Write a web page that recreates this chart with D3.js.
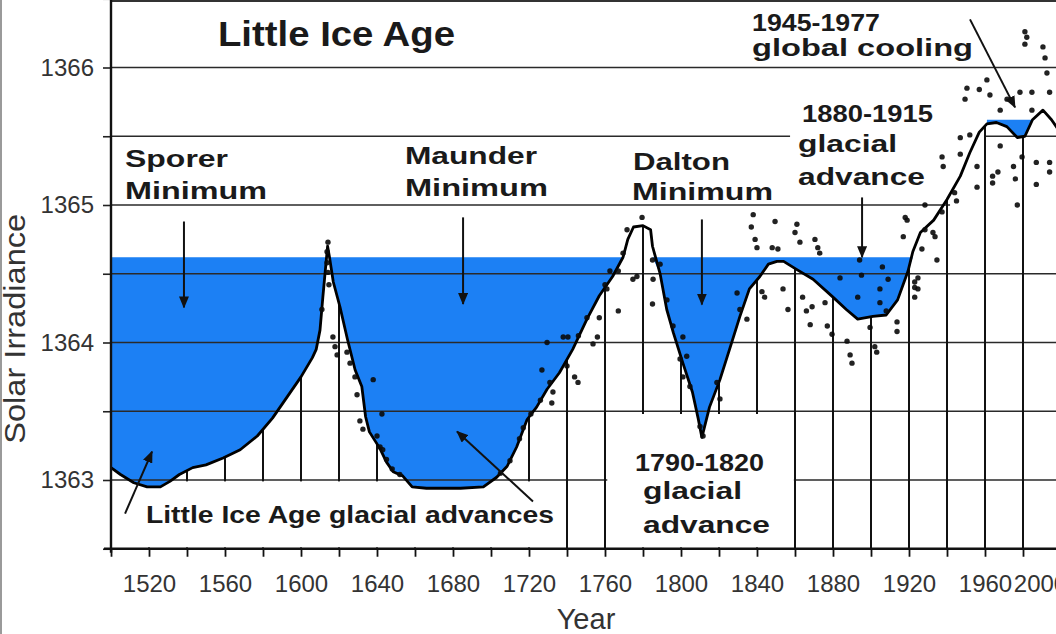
<!DOCTYPE html>
<html>
<head>
<meta charset="utf-8">
<script src="https://cdn.jsdelivr.net/npm/d3@7"></script>
<style>
  html, body { margin: 0; padding: 0; background: #fff; }
  svg { display: block; }
</style>
</head>
<body>
<svg id="chart" width="1056" height="634"></svg>
<script>
// 태양 복사 조도 (W/m2) 재구성 곡선
const CURVE_YEARS = [1500, 1505, 1512, 1519, 1526, 1531, 1536, 1543, 1550, 1559, 1568, 1577, 1585, 1593, 1600,
  1606, 1608, 1610, 1611.5, 1612.5, 1614, 1615, 1617, 1620.5, 1624.5, 1628.5, 1632, 1634, 1636, 1641.5,
  1645, 1648.5, 1653.5, 1658.5, 1666, 1684, 1696, 1703, 1708.5, 1713.5, 1719, 1724, 1729.5, 1736, 1743,
  1750.5, 1757, 1764, 1769.5, 1772, 1775, 1780, 1784, 1785, 1789, 1792.5, 1796, 1801, 1806, 1809, 1811,
  1815, 1820.5, 1826, 1831, 1836, 1841.5, 1846, 1850.5, 1854, 1861, 1869.5, 1880, 1887, 1893, 1901, 1908,
  1914, 1919.5, 1922, 1926, 1933, 1940, 1947, 1952, 1957, 1961, 1966, 1971.5, 1977, 1981, 1985, 1990.5,
  1995, 1998];
const CURVE_TSI = [1363.09, 1363.04, 1362.98, 1362.95, 1362.95, 1362.99, 1363.04, 1363.09, 1363.11, 1363.16,
  1363.22, 1363.32, 1363.45, 1363.61, 1363.75, 1363.89, 1363.95, 1364.09, 1364.33, 1364.48, 1364.70,
  1364.62, 1364.44, 1364.26, 1364.02, 1363.80, 1363.68, 1363.46, 1363.35, 1363.23, 1363.13, 1363.06,
  1363.03, 1362.95, 1362.94, 1362.94, 1362.95, 1363.02, 1363.10, 1363.24, 1363.44, 1363.53, 1363.66,
  1363.78, 1363.95, 1364.17, 1364.34, 1364.48, 1364.62, 1364.75, 1364.84, 1364.85, 1364.82, 1364.70,
  1364.50, 1364.24, 1364.07, 1363.85, 1363.64, 1363.45, 1363.31, 1363.53, 1363.73, 1363.97, 1364.19,
  1364.39, 1364.48, 1364.57, 1364.59, 1364.59, 1364.53, 1364.46, 1364.33, 1364.24, 1364.17, 1364.19,
  1364.20, 1364.31, 1364.52, 1364.66, 1364.80, 1364.89, 1365.04, 1365.21, 1365.38, 1365.53, 1365.59,
  1365.60, 1365.57, 1365.49, 1365.50, 1365.62, 1365.69, 1365.62, 1365.56];

// 개별 관측값 (점)
const SCATTER = [
  [1614.2, 1364.73], [1613.7, 1364.66], [1613.7, 1364.58], [1614.2, 1364.51], [1614.7, 1364.42],
  [1611, 1364.24], [1616.8, 1364.04], [1617.9, 1363.97], [1619, 1363.91], [1624.2, 1363.93],
  [1625.8, 1363.85], [1628.4, 1363.75], [1629.5, 1363.62], [1631, 1363.43], [1632.6, 1363.37],
  [1638, 1363.73], [1640, 1363.32], [1641.6, 1363.24], [1643, 1363.22], [1645, 1363.15],
  [1642.6, 1363.48], [1648, 1363.08], [1652, 1363.04], [1705, 1363.05], [1710, 1363.14],
  [1715, 1363.30], [1717, 1363.38], [1721, 1363.48], [1726, 1363.58], [1726.8, 1363.80],
  [1729.5, 1364.0], [1738, 1364.04], [1740.5, 1364.04], [1731, 1363.71], [1732.6, 1363.64],
  [1732, 1363.56], [1740, 1363.83], [1744, 1363.75], [1745.8, 1363.71], [1746, 1364.05],
  [1750.5, 1364.18], [1753.7, 1363.99], [1756, 1364.04], [1757, 1364.18], [1760, 1364.42],
  [1761, 1364.39], [1762.6, 1364.52], [1767, 1364.23], [1767, 1364.52], [1769.5, 1364.65],
  [1771.6, 1364.82], [1774.7, 1364.46], [1776.8, 1364.48], [1779.5, 1364.91], [1785, 1364.28],
  [1785, 1364.60], [1789, 1364.57], [1785.3, 1364.46], [1792.6, 1364.31], [1795.8, 1364.12],
  [1799.5, 1363.88], [1801, 1363.75], [1804.7, 1363.68], [1803, 1363.90], [1801, 1364.04],
  [1810, 1363.39], [1811.6, 1363.32], [1818.9, 1363.71], [1820.5, 1363.59], [1829.5, 1364.36],
  [1831, 1364.24], [1834.7, 1364.17],
  [1838, 1364.93], [1837, 1364.84], [1839, 1364.75], [1840, 1364.69], [1849.5, 1364.88],
  [1848, 1364.69], [1851, 1364.68], [1861, 1364.86], [1860, 1364.80], [1862.6, 1364.73],
  [1870.5, 1364.75], [1872, 1364.69], [1873, 1364.65], [1842.6, 1364.37], [1844, 1364.33],
  [1853.7, 1364.39], [1856.3, 1364.24], [1864, 1364.33], [1866, 1364.23], [1869, 1364.26],
  [1868, 1364.13], [1875.8, 1364.29], [1877, 1364.12], [1879.5, 1364.06], [1887.4, 1364.01],
  [1889, 1363.91], [1890, 1363.85], [1899.5, 1364.11], [1902, 1363.97], [1903, 1363.93],
  [1908, 1364.23], [1913.7, 1364.15], [1913.7, 1364.08], [1917, 1364.77], [1919, 1364.89],
  [1923, 1364.44], [1924.7, 1364.39], [1923, 1364.33], [1933.7, 1364.77], [1934.7, 1364.60],
  [1928.4, 1364.82], [1894, 1364.60], [1895, 1364.49], [1883.7, 1364.47], [1893, 1364.33],
  [1904.7, 1364.39], [1906, 1364.55], [1909, 1364.46], [1904.7, 1364.29],
  [1982, 1366.22], [1981, 1366.17], [1990.5, 1366.15], [1991.6, 1366.07], [1992.6, 1365.96],
  [1994, 1365.82], [1961, 1365.91], [1957, 1365.84], [1950.5, 1365.85], [1949.5, 1365.77],
  [1962.6, 1365.80], [1971.6, 1365.77], [1968, 1365.69], [1978.4, 1365.82], [1984.7, 1365.82],
  [1984.7, 1365.69], [1947, 1365.49], [1952, 1365.51], [1947, 1365.37], [1937.4, 1365.35],
  [1938, 1365.28], [1955.8, 1365.28], [1955.8, 1365.13], [1944, 1365.09], [1945, 1365.03],
  [1964, 1365.21], [1964, 1365.16], [1966.8, 1365.24], [1968, 1365.43], [1975, 1365.28],
  [1976, 1365.19], [1977, 1365.0], [1979.5, 1365.35], [1987, 1365.31], [1987, 1365.15],
  [1994, 1365.31], [1994, 1365.24], [1928.4, 1365.0], [1937.4, 1364.95], [1918, 1364.91],
  [1932.6, 1364.80], [1926.8, 1364.68], [1924.7, 1364.47], [1923, 1364.40], [1981, 1366.26]
];

// 빙하 전진기 (파란 영역): 시작, 끝, 기준선
const FILL_FROM  = [1500, 1961];
const FILL_TO    = [1922, 1985];
const FILL_LEVEL = [1364.62, 1365.62];

const DROP_YEARS = [1520, 1540, 1560, 1580, 1600, 1620, 1640, 1660, 1680, 1700, 1720, 1740, 1760, 1780,
  1800, 1820, 1840, 1860, 1880, 1900, 1920, 1940, 1960, 1980];
const X_TICKS  = [1500, 1520, 1540, 1560, 1580, 1600, 1620, 1640, 1660, 1680, 1700, 1720, 1740, 1760, 1780,
  1800, 1820, 1840, 1860, 1880, 1900, 1920, 1940, 1960, 1980, 2000];
const X_LABELS = [1520, 1560, 1600, 1640, 1680, 1720, 1760, 1800, 1840, 1880, 1920, 1960, 2000];
const Y_TICKS  = [1362.5, 1363, 1363.5, 1364, 1364.5, 1365, 1365.5, 1366, 1366.5];
const Y_LABELS = [1363, 1364, 1365, 1366];
const GRID_VALUES = [1363, 1363.5, 1364, 1364.5, 1365, 1365.5, 1366];

// 주석 텍스트: [내용, 시작연도, 끝연도, 기준선 값]
const NOTES = [
  ['Sporer', 1507.4, 1561.6, 1365.28],
  ['Minimum', 1507.4, 1582.1, 1365.047],
  ['Maunder', 1654.7, 1724.2, 1365.295],
  ['Minimum', 1654.7, 1730, 1365.062],
  ['Dalton', 1774.7, 1825.8, 1365.258],
  ['Minimum', 1774.2, 1848.4, 1365.04],
  ['1790-1820', 1775.8, 1843.7, 1363.062],
  ['glacial', 1780, 1832.1, 1362.865],
  ['advance', 1780, 1846.8, 1362.618],
  ['1880-1915', 1863.7, 1932.6, 1365.607],
  ['glacial', 1861.6, 1913.7, 1365.389],
  ['advance', 1861.6, 1928.4, 1365.142],
  ['1945-1977', 1837.4, 1904.7, 1366.262],
  ['global cooling', 1837.4, 1953.7, 1366.087],
  ['Little Ice Age glacial advances', 1518.4, 1733.2, 1362.684]
];
// 화살표: [연도1, 값1, 연도2(끝), 값2(끝)]
const ARROWS = [
  [1538.4, 1364.88, 1538.4, 1364.255],
  [1685.3, 1364.91, 1685.3, 1364.28],
  [1811, 1364.895, 1811, 1364.276],
  [1895.3, 1365.055, 1895.3, 1364.62],
  [1952.1, 1366.35, 1975.8, 1365.71],
  [1507.4, 1362.756, 1521.6, 1363.207],
  [1722.1, 1362.844, 1682.1, 1363.353]
];
// 라벨 뒤 흰 배경: [연도1, 연도2, 값1, 값2]
const MASKS_UNDER = [
  [1857.4, 1960, 1365.08, 1365.84],
  [1941.6, 2010, 1364.96, 1365.04]
];
const MASKS_OVER = [
  [1501, 1738.4, 1362.51, 1362.99],
  [1761.2, 1859.4, 1362.51, 1363.48]
];

const svg = d3.select('#chart');
const W = 1056, H = 634;
const BLUE = '#1c80f4';
const FONT = '"Liberation Sans", Arial, sans-serif';

const x = d3.scaleLinear().domain([1500, 2000]).range([111, 1061]);
const y = d3.scaleLinear().domain([1362.5, 1366.5]).range([548.75, -1.25]);

const curve = CURVE_YEARS.map((yr, i) => ({ yr, v: CURVE_TSI[i] }));
function tsiAt(yr) {
  const i = d3.bisector(d => d.yr).left(curve, yr);
  if (i <= 0) return curve[0].v;
  if (i >= curve.length) return curve[curve.length - 1].v;
  const a = curve[i - 1], b = curve[i];
  return a.v + (b.v - a.v) * (yr - a.yr) / (b.yr - a.yr);
}

// 프레임
svg.append('rect').attr('width', W).attr('height', H).attr('fill', '#fff');
svg.append('line').attr('x1', 1).attr('x2', 1).attr('y1', 0).attr('y2', H)
  .attr('stroke', '#9a9a9a').attr('stroke-width', 2);
svg.append('line').attr('x1', x(1500)).attr('x2', W).attr('y1', 1).attr('y2', 1)
  .attr('stroke', '#333').attr('stroke-width', 2);

// 가로 격자
function drawGrid(g) {
  g.selectAll('line').data(GRID_VALUES).join('line')
    .attr('x1', x(1500)).attr('x2', W)
    .attr('y1', d => y(d)).attr('y2', d => y(d))
    .attr('stroke', '#2a2a2a').attr('stroke-width', 1.6);
}
drawGrid(svg.append('g'));

function drawMasks(data) {
  svg.append('g').selectAll('rect').data(data).join('rect')
    .attr('x', d => x(d[0])).attr('width', d => x(d[1]) - x(d[0]))
    .attr('y', d => y(d[3])).attr('height', d => y(d[2]) - y(d[3]))
    .attr('fill', '#fff');
}
drawMasks(MASKS_UNDER);

// 세로 막대선 (곡선 아래)
svg.append('g').selectAll('line').data(DROP_YEARS).join('line')
  .attr('x1', d => x(d)).attr('x2', d => x(d))
  .attr('y1', d => y(tsiAt(d))).attr('y2', y(1362.5))
  .attr('stroke', '#111').attr('stroke-width', 2);

drawMasks(MASKS_OVER);

// 파란 영역
const defs = svg.append('defs');
const clip = defs.append('clipPath').attr('id', 'blueClip');
const fillG = svg.append('g');
FILL_FROM.forEach((from, k) => {
  const to = FILL_TO[k], lvl = FILL_LEVEL[k];
  const pts = [{ yr: from, v: tsiAt(from) }]
    .concat(curve.filter(d => d.yr > from && d.yr < to))
    .concat([{ yr: to, v: tsiAt(to) }]);
  const area = d3.area()
    .x(d => x(d.yr))
    .y0(y(lvl))
    .y1(d => y(Math.min(d.v, lvl)));
  fillG.append('path').datum(pts).attr('d', area).attr('fill', BLUE);
  clip.append('path').datum(pts).attr('d', area);
});
drawGrid(svg.append('g').attr('clip-path', 'url(#blueClip)'));

// 곡선
svg.append('path').datum(curve)
  .attr('d', d3.line().x(d => x(d.yr)).y(d => y(d.v)))
  .attr('fill', 'none').attr('stroke', '#000').attr('stroke-width', 2.8)
  .attr('stroke-linejoin', 'round');

// 점
svg.append('g').selectAll('circle').data(SCATTER).join('circle')
  .attr('cx', d => x(d[0])).attr('cy', d => y(d[1])).attr('r', 2.7)
  .attr('fill', '#0a0a0a').attr('fill-opacity', 0.9);

// 축
const yAxis = svg.append('g').attr('transform', `translate(${x(1500)},0)`)
  .call(d3.axisLeft(y).tickValues(Y_TICKS).tickSize(8)
    .tickFormat(d => Y_LABELS.includes(d) ? d : ''));
yAxis.select('.domain').remove();
yAxis.selectAll('.tick line').attr('stroke', '#222').attr('stroke-width', 1.6);
yAxis.selectAll('.tick text').attr('x', -17).attr('font-family', FONT).attr('font-size', 24)
  .attr('fill', '#333');
svg.append('line').attr('x1', x(1500)).attr('x2', x(1500)).attr('y1', 0).attr('y2', y(1362.5) + 4)
  .attr('stroke', '#111').attr('stroke-width', 2.4);

const xAxis = svg.append('g').attr('transform', `translate(0,${y(1362.5)})`)
  .call(d3.axisBottom(x).tickValues(X_TICKS).tickSize(8)
    .tickFormat(d => X_LABELS.includes(d) ? d : ''));
xAxis.select('.domain').remove();
xAxis.selectAll('.tick line').attr('stroke', '#111').attr('stroke-width', 1.8);
xAxis.selectAll('.tick text').attr('y', 43).attr('dy', 0).attr('font-family', FONT)
  .attr('font-size', 24).attr('fill', '#333')
  .attr('dx', d => d === 2000 ? -21 : 0);
svg.append('line').attr('x1', x(1500) - 7).attr('x2', W).attr('y1', y(1362.5)).attr('y2', y(1362.5))
  .attr('stroke', '#111').attr('stroke-width', 2.6);

// 축 제목
svg.append('text').attr('transform', `translate(25,${y(1364.1)}) rotate(-90)`)
  .attr('text-anchor', 'middle').attr('font-family', FONT).attr('font-size', 29)
  .attr('fill', '#333').attr('textLength', 230).attr('lengthAdjust', 'spacingAndGlyphs')
  .text('Solar Irradiance');
svg.append('text').attr('x', x(1750)).attr('y', 629).attr('text-anchor', 'middle')
  .attr('font-family', FONT).attr('font-size', 29).attr('fill', '#333')
  .text('Year');

// 제목
svg.append('text').attr('x', x(1556.3)).attr('y', y(1366.153))
  .attr('font-family', FONT).attr('font-size', 35).attr('font-weight', 'bold')
  .attr('fill', '#1a1a1a').attr('textLength', x(1681.05) - x(1556.3))
  .attr('lengthAdjust', 'spacingAndGlyphs').text('Little Ice Age');

// 화살표
defs.append('marker').attr('id', 'head').attr('markerUnits', 'userSpaceOnUse')
  .attr('markerWidth', 12).attr('markerHeight', 10).attr('refX', 11).attr('refY', 5)
  .attr('orient', 'auto')
  .append('path').attr('d', 'M0,0L12,5L0,10Z').attr('fill', '#111');
svg.append('g').selectAll('line').data(ARROWS).join('line')
  .attr('x1', d => x(d[0])).attr('y1', d => y(d[1]))
  .attr('x2', d => x(d[2])).attr('y2', d => y(d[3]))
  .attr('stroke', '#111').attr('stroke-width', 2).attr('marker-end', 'url(#head)');

// 주석
svg.append('g').selectAll('text').data(NOTES).join('text')
  .attr('x', d => x(d[1])).attr('y', d => y(d[3]))
  .attr('font-family', FONT).attr('font-size', 24).attr('font-weight', 'bold')
  .attr('fill', '#1a1a1a')
  .attr('textLength', d => x(d[2]) - x(d[1])).attr('lengthAdjust', 'spacingAndGlyphs')
  .text(d => d[0]);
</script>
</body>
</html>
